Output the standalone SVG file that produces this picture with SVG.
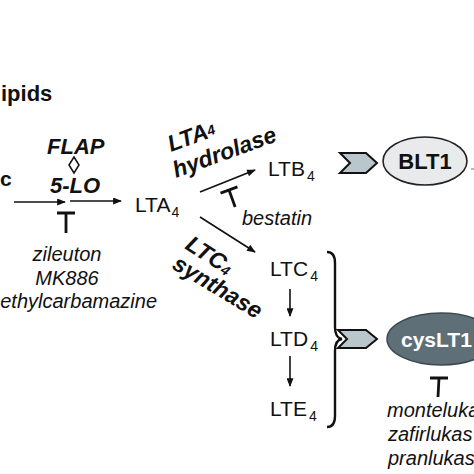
<svg xmlns="http://www.w3.org/2000/svg" width="474" height="474" viewBox="0 0 474 474">
<defs>
<marker id="ah" viewBox="0 0 10 8" refX="9" refY="4" markerWidth="10" markerHeight="7" markerUnits="userSpaceOnUse" orient="auto"><path d="M0,0 L10,4 L0,8 Z" fill="#111"/></marker>
<style>
.t{font-family:"Liberation Sans",Arial,sans-serif;fill:#111}
.b{font-weight:bold}
.r{font-size:21px}
.enz{font-family:"Liberation Sans",Arial,sans-serif;font-weight:bold;font-style:italic;font-size:22px;fill:#111}
.rot{font-size:23px}
.drug{font-family:"Liberation Sans",Arial,sans-serif;font-style:italic;font-size:20px;fill:#111}
.ln{stroke:#111;stroke-width:1.6;fill:none}
.inh{stroke:#111;stroke-width:2.8;fill:none}
.chev{fill:#b9c6cb;stroke:#111;stroke-width:2;stroke-linejoin:miter}
</style>
</defs>
<rect width="474" height="474" fill="#fff"/>

<g id="lipids"><text class="t b" x="1" y="101" font-size="22">ipids</text></g>
<g id="aa"><text class="t b" x="0" y="186" font-size="21">c</text></g>

<g id="flap">
<text class="enz" x="47" y="154">FLAP</text>
<path d="M74,157 L79,165 L74,173 L69,165 Z" fill="#fff" stroke="#111" stroke-width="1.5"/>
<text class="enz" x="50" y="193">5-LO</text>
</g>

<g id="inhib1">
<path class="inh" d="M57,213 H75 M66,213 V233"/>
<text class="drug" x="67" y="261" text-anchor="middle">zileuton</text>
<text class="drug" x="67" y="285" text-anchor="middle">MK886</text>
<text class="drug" x="157" y="308" text-anchor="end">ethylcarbamazine</text>
</g>

<g id="LTA4"><text class="t r" x="135" y="212">LTA<tspan font-size="14" dy="5" dx="1">4</tspan></text></g>

<g id="hydrolase">
<text class="enz rot" transform="translate(171,152) rotate(-20)">LTA<tspan font-size="14" dy="-2">4</tspan></text>
<text class="enz rot" transform="translate(176,178) rotate(-20)">hydrolase</text>
</g>

<g id="synthase">
<text class="enz rot" transform="translate(184,248) rotate(33)">LTC<tspan font-size="14" dy="1">4</tspan></text>
<text class="enz rot" transform="translate(171,268) rotate(31)">synthase</text>
</g>

<g id="LTB4"><text class="t r" x="268" y="176">LTB<tspan font-size="14" dy="5" dx="2">4</tspan></text></g>

<g id="bestatin">
<path class="inh" transform="translate(229,190) rotate(-20)" d="M-9,0 H9 M0,0 V18"/>
<text class="drug" x="242" y="225">bestatin</text>
</g>

<g id="LTC4"><text class="t r" x="270" y="276">LTC<tspan font-size="14" dy="5" dx="2">4</tspan></text></g>
<g id="LTD4"><text class="t r" x="270" y="346">LTD<tspan font-size="14" dy="5" dx="2">4</tspan></text></g>
<g id="LTE4"><text class="t r" x="270" y="416">LTE<tspan font-size="14" dy="5" dx="2">4</tspan></text></g>

<g id="brace"><path d="M327,252 Q335,252 335,263 L335,327 Q335,338 342,339 Q335,340 335,351 L335,416 Q335,427 327,427" fill="none" stroke="#111" stroke-width="2.4"/></g>

<g id="BLT1">
<path class="chev" d="M340,153 L366,153 L377,163 L366,173 L340,173 L350,163 Z"/>
<ellipse cx="425" cy="161" rx="42" ry="24" fill="#e8eaec" stroke="#222" stroke-width="1.6"/>
<text class="t b" x="425" y="169" font-size="22" text-anchor="middle">BLT1</text>
<line x1="471" y1="169" x2="474" y2="169" stroke="#888" stroke-width="1.2"/>
</g>

<g id="cysLT1">
<path class="chev" d="M338,330 L366,330 L377,339 L366,348 L338,348 L347,339 Z"/>
<ellipse cx="441" cy="339" rx="54" ry="26" fill="#5e6f77" stroke="#3c4a50" stroke-width="1.5"/>
<text class="b" x="401" y="347" font-size="21" font-family="Liberation Sans, Arial, sans-serif" fill="#fff">cysLT1</text>
</g>

<g id="inhib2">
<path class="inh" d="M430,378 H448 M439,378 L438,397" stroke-width="3"/>
<text class="drug" x="387" y="417" font-size="19.5">monteluka</text>
<text class="drug" x="388" y="441">zafirlukas</text>
<text class="drug" x="388" y="465">pranlukas</text>
</g>

<g id="connectors">
<line class="ln" x1="14" y1="202" x2="65" y2="202" marker-end="url(#ah)"/>
<line class="ln" x1="70" y1="201" x2="121" y2="201" marker-end="url(#ah)"/>
<line class="ln" x1="200" y1="192" x2="255" y2="170" marker-end="url(#ah)"/>
<line class="ln" x1="200" y1="217" x2="255" y2="252" marker-end="url(#ah)"/>
<line class="ln" x1="290" y1="289" x2="290" y2="316" marker-end="url(#ah)"/>
<line class="ln" x1="290" y1="356" x2="290" y2="386" marker-end="url(#ah)"/>
</g>
</svg>
